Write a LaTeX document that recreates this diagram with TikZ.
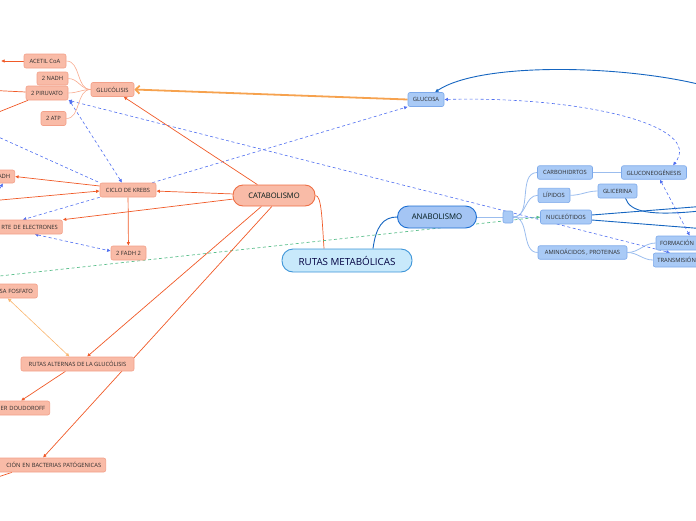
\documentclass[tikz,border=0pt]{standalone}
\usepackage{fontspec}
\setmainfont{Open Sans}
\usetikzlibrary{arrows.meta}
\definecolor{ofill}{HTML}{F9BBA7}
\definecolor{oborder}{HTML}{F3A089}
\definecolor{olinec}{HTML}{F05A28}
\definecolor{olight}{HTML}{F8A98D}
\definecolor{oyel}{HTML}{F9B56E}
\definecolor{ogl}{HTML}{F6A24E}
\definecolor{bfill}{HTML}{A9CAF6}
\definecolor{bborder}{HTML}{7DA9EA}
\definecolor{blinec}{HTML}{9BBDEE}
\definecolor{bdark}{HTML}{1565C0}
\definecolor{bdash}{HTML}{4F6EF0}
\definecolor{gdash}{HTML}{5CBF8C}
\definecolor{rfill}{HTML}{C8E9FB}
\definecolor{rborder}{HTML}{3D95D8}
\definecolor{afill}{HTML}{A4C5F4}
\definecolor{aborder}{HTML}{1C6FD3}
\definecolor{cborder}{HTML}{EE6F45}
\definecolor{txt}{HTML}{2B2B2B}
\pgfdeclarelayer{bg}
\pgfsetlayers{bg,main}
\tikzset{
  >={Latex[length=3.6pt,width=3.6pt]},
  obox/.style={draw=oborder, fill=ofill, rounded corners=2pt, line width=0.6pt, inner sep=0pt,
    font=\fontsize{5.8}{6}\selectfont, text=txt, minimum height=14pt},
  bbox/.style={draw=bborder, fill=bfill, rounded corners=2pt, line width=0.6pt, inner sep=0pt,
    font=\fontsize{5.8}{6}\selectfont, text=txt, minimum height=14pt},
  cutl/.style={anchor=east, text width=125pt, align=right, inner xsep=4.5pt},
  cutr/.style={anchor=west, text width=70pt, align=left, inner xsep=4pt},
  cata/.style={draw=cborder, fill=ofill, line width=0.9pt, rounded corners=10pt, minimum width=82pt,
    minimum height=21pt, inner sep=0pt, font=\fontsize{7.6}{8}\selectfont, text=black!80!teal},
  rutasbox/.style={draw=rborder, fill=rfill, line width=0.9pt, rounded corners=11pt, minimum width=130pt,
    minimum height=23pt, inner sep=0pt, font=\fontsize{9.8}{10}\selectfont, text=black!75!blue},
  anabox/.style={draw=aborder, fill=afill, line width=0.9pt, rounded corners=11pt, minimum width=79pt,
    minimum height=22pt, inner sep=0pt, font=\fontsize{7.8}{8}\selectfont, text=black!80!teal},
  oconn/.style={draw=olinec, line width=0.7pt},
  olconn/.style={draw=olight, line width=0.6pt},
  yconn/.style={draw=oyel, line width=0.6pt},
  glconn/.style={draw=ogl, line width=1.8pt},
  bconn/.style={draw=blinec, line width=0.8pt},
  bdconn/.style={draw=bdark, line width=0.9pt},
  dconn/.style={draw=bdash, line width=0.6pt, dash pattern=on 3pt off 2.5pt},
  gconn/.style={draw=gdash, line width=0.7pt, dash pattern=on 3pt off 2.5pt},
}
\begin{document}
\begin{tikzpicture}[x=1pt,y=-1pt]
\useasboundingbox (0,0) rectangle (696,520);
% catabolism nodes
\node[obox, minimum width=42pt] (acetil) at (45,61) {ACETIL CoA};
\node[obox, minimum width=31pt, minimum height=13pt] (nadh) at (52.5,78.5) {2 NADH};
\node[obox, minimum width=42pt] (piruvato) at (47,93) {2 PIRUVATO};
\node[obox, minimum width=25pt] (atp) at (53.5,118.5) {2 ATP};
\node[obox, minimum width=43pt] (glucolisis) at (112.5,89.5) {GLUCÓLISIS};
\node[obox, minimum width=56pt] (krebs) at (128,190) {CICLO DE KREBS};
\node[obox, cutl, minimum height=13pt] (adh) at (15,176.5) {ADH};
\node[obox, cutl] (transporte) at (62.7,227) {RTE DE ELECTRONES};
\node[obox, minimum width=35pt] (fadh) at (128.5,253) {2 FADH 2};
\node[obox, cutl] (fosfato) at (37.7,291) {SA FOSFATO};
\node[obox, minimum width=113pt] (alternas) at (77.5,364) {RUTAS ALTERNAS DE LA GLUCÓLISIS};
\node[obox, cutl] (doudoroff) at (50,408) {ER DOUDOROFF};
\node[obox, cutl] (bacterias) at (106,465) {CIÓN EN BACTERIAS PATÓGENICAS};
\node[cata] (catabolismo) at (274,195.5) {CATABOLISMO};
\node[rutasbox] (rutas) at (347,260.5) {RUTAS METABÓLICAS};
\node[anabox] (anabolismo) at (437,217) {ANABOLISMO};
% anabolism nodes
\node[bbox, minimum width=36pt] (glucosa) at (426,99.5) {GLUCOSA};
\node[bbox, minimum width=10pt, minimum height=12pt] (sq) at (508,217) {};
\node[bbox, minimum width=55pt, minimum height=13.5pt] (carbo) at (565,172.5) {CARBOHIDRTOS};
\node[bbox, minimum width=65pt, minimum height=13.5pt] (gluconeo) at (654,172.5) {GLUCONEOGÉNESIS};
\node[bbox, minimum width=32pt, minimum height=14.5pt] (lipidos) at (554,195.3) {LÍPIDOS};
\node[bbox, minimum width=39pt] (glicerina) at (617.5,191) {GLICERINA};
\node[bbox, minimum width=51pt] (nucleo) at (566,217) {NUCLEÓTIDOS};
\node[bbox, minimum width=89pt, minimum height=13.5pt] (amino) at (582.5,252.5) {AMINOÁCIDOS , PROTEINAS};
\node[bbox, cutr] (formacion) at (655.7,243) {FORMACIÓN};
\node[bbox, cutr] (transmision) at (653,260) {TRANSMISIÓN};
% free ends
\coordinate (e1) at (700,84.5);
\coordinate (e2) at (700,211);
\coordinate (e3) at (700,206.5);
\coordinate (e4) at (700,228.5);
\coordinate (l1) at (-5,135.5);
\coordinate (l2) at (-6,198);
\coordinate (l3) at (-5,276.5);
\coordinate (l4) at (-5,200.5);
\coordinate (l5) at (1,61);
\coordinate (l6) at (-5,90.5);
\coordinate (l7) at (-5,113.5);
\coordinate (l8) at (-5,478);
\begin{pgfonlayer}{bg}
% main branches
\draw[oconn] ([xshift=-23pt]rutas.north) .. controls +(-2,-30) and +(6,0) .. (catabolismo.east);
\draw[bdconn] ([xshift=26pt]rutas.north) .. controls +(3,-22) and +(-14,0) .. (anabolismo.west);
% anabolism
\draw[bconn] (anabolismo.east) -- (sq.west);
\draw[bconn] (sq.east) to[out=0,in=180] (carbo.west);
\draw[bconn] (sq.east) to[out=0,in=180] (lipidos.west);
\draw[bconn] (sq.east) to[out=0,in=180] (nucleo.west);
\draw[bconn] (sq.east) to[out=0,in=180] (amino.west);
\draw[bconn] (carbo.east) -- (gluconeo.west);
\draw[bconn] (lipidos.east) to[out=0,in=180] (glicerina.west);
\draw[bconn] (amino.east) to[out=0,in=180] (formacion.west);
\draw[bconn] (amino.east) to[out=0,in=180] (transmision.west);
\draw[bdconn,->] (e1) .. controls (620,65) and (480,62) .. ([xshift=9pt]glucosa.north);
\draw[bdconn] ([xshift=8pt]glicerina.south) .. controls (630,212) and (650,216) .. (e2);
\draw[bdconn] ([yshift=2pt]nucleo.east) -- (e3);
\draw[bdconn] ([yshift=-3pt]nucleo.east) -- (e4);
% dashed relations
\draw[dconn,<->] (glucosa.east) .. controls (580,96) and (705,125) .. ([xshift=19pt]gluconeo.north);
\draw[dconn,<->] ([xshift=6pt]gluconeo.south) -- ([xshift=34pt]formacion.north west);
\draw[dconn,->] ([xshift=-4pt]krebs.north east) -- (glucosa.south west);
\draw[dconn,<->] (piruvato.south east) -- ([xshift=17pt]transmision.north west);
\draw[dconn,<->] ([xshift=1pt]piruvato.south east) -- ([xshift=-6pt]krebs.north);
\draw[dconn] (l1) -- (krebs.north west);
\draw[dconn,->] (krebs.south west) -- ([xshift=-40pt]transporte.north east);
\draw[dconn,<->] ([xshift=-28pt]transporte.south east) -- ([yshift=2pt]fadh.west);
\draw[dconn,->] (l2) -- ([xshift=-12pt]adh.south east);
\draw[gconn,->] (l3) -- (nucleo.west);
% catabolism
\draw[glconn,-{Straight Barb[length=4pt,width=8pt]}] (glucosa.west) -- (glucolisis.east);
\draw[oconn,->] (catabolismo) -- (glucolisis);
\draw[oconn,->] (catabolismo) -- (krebs);
\draw[oconn,->] (catabolismo.185) -- (transporte.north east);
\draw[oconn,->] (catabolismo.221) -- ([xshift=9.5pt]alternas.north);
\draw[oconn,->] (catabolismo.259) -- ([xshift=-63pt]bacterias.north east);
\draw[oconn,->] ([yshift=4pt]krebs.west) -- (adh.east);
\draw[oconn,->] (l4) -- ([yshift=-1pt]krebs.west);
\draw[oconn,->] (krebs) -- (fadh);
\draw[oconn,->] (acetil.west) -- (l5);
\draw[oconn] ([yshift=1pt]piruvato.west) -- (l6);
\draw[oconn] ([xshift=-19pt]piruvato.south) -- (l7);
\draw[oconn,->] ([xshift=-12pt]alternas.south) -- ([xshift=-29pt]doudoroff.north east);
\draw[oconn] ([xshift=-94pt]bacterias.south east) -- (l8);
\draw[yconn,<->] ([xshift=-30pt]fosfato.south east) -- ([xshift=-8pt]alternas.north);
\draw[olconn] (glucolisis.west) to[out=180,in=0] (acetil.east);
\draw[olconn] (glucolisis.west) to[out=180,in=0] (nadh.east);
\draw[olconn] (glucolisis.west) to[out=180,in=0] (piruvato.east);
\draw[olconn] (glucolisis.west) to[out=180,in=0] (atp.east);
\end{pgfonlayer}
\end{tikzpicture}
\end{document}
